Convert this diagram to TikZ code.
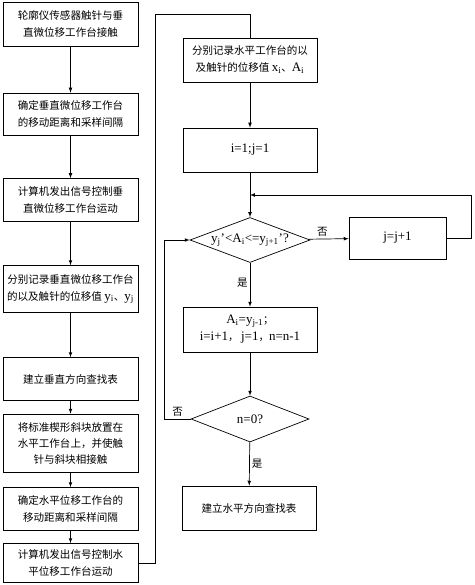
\documentclass[tikz,border=0pt]{standalone}
\usepackage{fontspec}
\setmainfont{Liberation Serif}
\newfontfamily\cjk[Scale=0.81]{Noto Sans CJK SC}
\usetikzlibrary{shapes.geometric}
\tikzset{
    > = latex
}
\begin{document}
\begin{tikzpicture}[x=1pt, y=-1pt, line width=.7pt]
        \tikzstyle{box}=[draw, minimum width=135pt, inner sep=0pt, align=center, font=\fontsize{13}{17}\cjk]
        \tikzstyle{dec}=[draw, shape=diamond, inner sep=0pt, aspect=2.6, font=\fontsize{13}{17}\rmfamily]
        \tikzstyle{lab}=[font=\fontsize{13}{17}\cjk, inner sep=2pt]
        \useasboundingbox (0,0) rectangle (474,585);
        % left column
        \node[box, minimum height=44pt] (b1) at (70.5,24) {轮廓仪传感器触针与垂\\直微位移工作台接触};
        \node[box, minimum height=42pt] (b2) at (70.5,114) {确定垂直微位移工作台\\的移动距离和采样间隔};
        \node[box, minimum height=43pt] (b3) at (70.5,200) {计算机发出信号控制垂\\直微位移工作台运动};
        \node[box, minimum height=47pt] (b4) at (70.5,289) {分别记录垂直微位移工作台\\的以及触针的位移值 {\rmfamily y\textsubscript{i}}、{\rmfamily y\textsubscript{j}}};
        \node[box, minimum height=43pt] (b5) at (70.5,379) {建立垂直方向查找表};
        \node[box, minimum height=58pt, font=\fontsize{13}{16}\cjk] (b6) at (70.5,443) {将标准楔形斜块放置在\\水平工作台上，并使触\\针与斜块相接触};
        \node[box, minimum height=43pt] (b7) at (70.5,509) {确定水平位移工作台的\\移动距离和采样间隔};
        \node[box, minimum height=39pt] (b8) at (70.5,563) {计算机发出信号控制水\\平位移工作台运动};
        \foreach \a/\b in {b1/b2,b2/b3,b3/b4,b4/b5,b5/b6,b6/b7,b7/b8}
            \draw[->] (\a) -- (\b);
        % right column
        \node[box, minimum width=134pt, minimum height=44pt] (r1) at (250,60) {分别记录水平工作台的以\\及触针的位移值 {\rmfamily x\textsubscript{i}}、{\rmfamily A\textsubscript{i}}};
        \node[box, minimum width=134pt, minimum height=44pt] (r2) at (250,150) {\rmfamily i=1;j=1};
        \node[dec, minimum width=120pt, minimum height=45pt] (d1) at (250,240) {y\textsubscript{j}'<A\textsubscript{i}<=y\textsubscript{j+1}'?};
        \node[box, minimum width=97pt, minimum height=42pt] (jb) at (397.5,238) {\rmfamily j=j+1};
        \node[box, minimum width=134pt, minimum height=45pt] (r3) at (250,329.5) {{\rmfamily A\textsubscript{i}=y\textsubscript{j-1}}；\\{\rmfamily i=i+1}，\ {\rmfamily j=1}，{\rmfamily n=n-1}};
        \node[dec, minimum width=118pt, minimum height=46pt] (d2) at (250,419) {n=0?};
        \node[box, minimum width=134pt, minimum height=44pt] (r4) at (249,508) {建立水平方向查找表};
        % connectors
        \coordinate (top) at (250,14);
        \coordinate (loop) at (250,195);
        \draw (b8.east) -- ++(17,0) |- (top) -- (r1.north);
        \draw[->] (r1) -- (r2);
        \draw[->] (r2) -- (d1);
        \draw[->] (d1) -- node[lab, pos=.35, above] {否} (jb);
        \draw[->] (jb.east) -- ++(25,0) |- (loop);
        \draw[->] (d1) -- node[lab, pos=.45, left] {是} (r3);
        \draw[->] (r3) -- (d2);
        \draw[->] (d2.west) -- node[lab, above] {否} ++(-26,0) |- (d1.west);
        \draw[->] (d2) -- node[lab, pos=.5, right] {是} (r4);
    \end{tikzpicture}
\end{document}
